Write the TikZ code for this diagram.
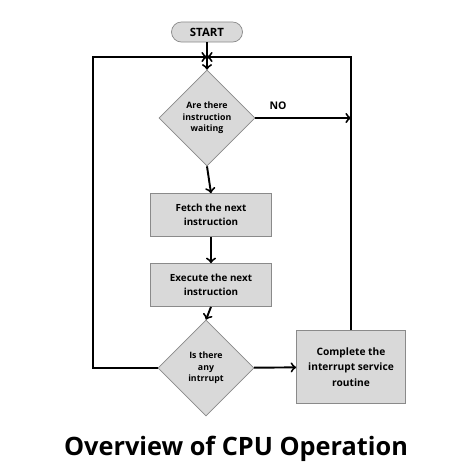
\documentclass[tikz,border=0pt]{standalone}
\usepackage{fontspec}
\setmainfont{Open Sans}
\usetikzlibrary{shapes.geometric}
\definecolor{boxgray}{HTML}{D9D9D9}
\definecolor{edgegray}{HTML}{8A8A8A}

\begin{document}
\begin{tikzpicture}[x=0.02cm,y=-0.02cm,
  font=\bfseries,
  startbox/.style={draw=edgegray,fill=boxgray,rounded corners=0.2cm,minimum width=1.42cm,minimum height=0.4cm,font=\bfseries\fontsize{6.5}{8}\selectfont},
  process/.style={draw=edgegray,fill=boxgray,minimum width=2.42cm,minimum height=0.86cm,align=center,inner sep=1pt,font=\bfseries\fontsize{5.6}{7.9}\selectfont},
  decision/.style={diamond,draw=edgegray,fill=boxgray,minimum width=1.92cm,minimum height=1.92cm,inner sep=0pt,align=center,font=\bfseries\fontsize{5}{6.6}\selectfont},
  flow/.style={line width=1.1pt},
  arrow/.style={->,line width=1.1pt}]

\useasboundingbox (0,0) rectangle (474,474);

% Nodes
\node[startbox] (start) at (207,32) {START};
\coordinate (join) at (207,57);
\node[decision] (wait) at (207,118) {Are there\\instruction\\waiting};
\node[process] (fetch) at (211,215) {Fetch the next\\instruction};
\node[process] (exec) at (211,285) {Execute the next\\instruction};
\node[decision] (intr) at (206,368) {Is there\\any\\intrrupt};
\node[process,minimum width=2.18cm,minimum height=1.46cm,font=\bfseries\fontsize{5.8}{8.8}\selectfont] (isr) at (351,367) {Complete the\\interrupt service\\routine};
\coordinate (loopleft) at (93,368);

% Labels
\node[font=\bfseries\fontsize{6}{7}\selectfont] (no) at (278,106) {NO};
\node[font=\bfseries\fontsize{14.4}{16}\selectfont] (title) at (236,449) {Overview of CPU Operation};

% Connectors
\draw[flow] (start) -- (join);
\draw[arrow] (join) -- (wait);
\draw[arrow] (wait.south) -- (fetch.north);
\draw[arrow] (fetch) -- (exec);
\draw[arrow] (exec.south) -- (intr.north);
\draw[arrow] (intr) -- (isr);
\draw[arrow] (wait.east) -- (wait.east -| isr.north);
\draw[arrow] (isr.north) |- (join);
\draw[arrow] (intr.west) -- (loopleft) |- (join);

\end{tikzpicture}
\end{document}
